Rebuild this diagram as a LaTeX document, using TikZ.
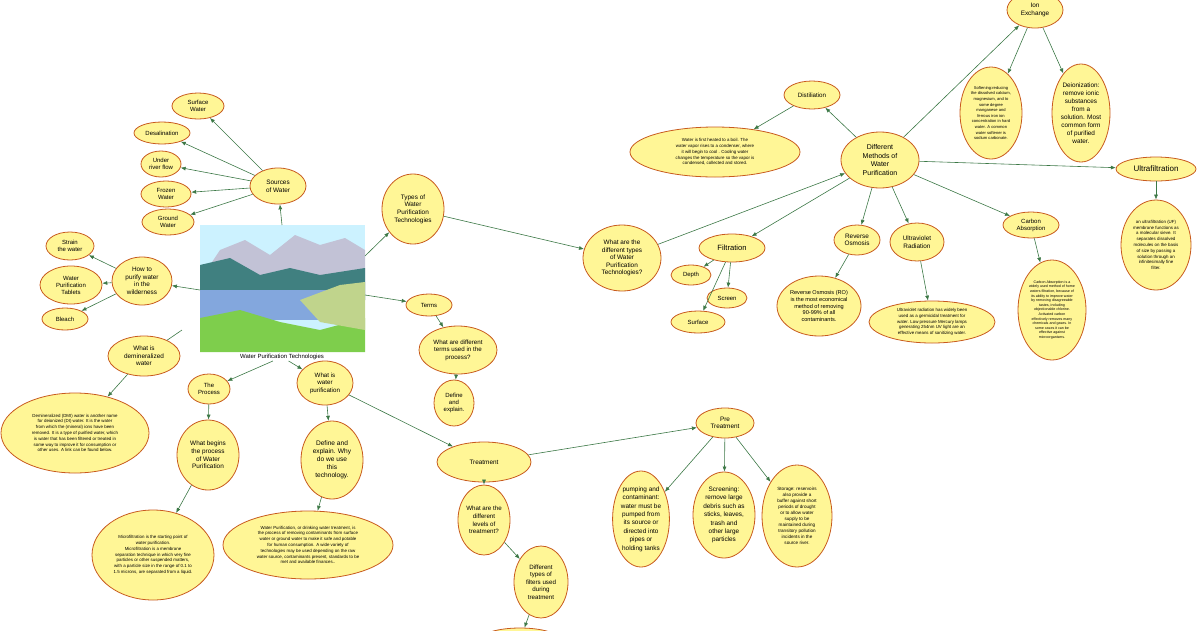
\documentclass[tikz,border=0pt]{standalone}
\usepackage{fontspec}
\setmainfont{Liberation Sans}
\usetikzlibrary{shapes.geometric,arrows.meta}
\definecolor{elfill}{RGB}{255,246,150}
\definecolor{eldraw}{RGB}{200,90,30}
\definecolor{ln}{RGB}{60,120,70}
\tikzset{
 el/.style={ellipse,draw=eldraw,line width=0.8pt,fill=elfill,align=center,inner sep=0pt,font=\fontsize{7}{8.4}\selectfont},
 ar/.style={draw=ln,line width=0.6pt,-{Latex[length=5pt,width=4pt]}}
}
\newcommand{\tnf}{\fontsize{4.4}{5.8}\selectfont}
\newcommand{\fs}[2]{\fontsize{#1}{#2}\selectfont}
\newcommand{\E}[6][]{\node[el,minimum width=#4pt,minimum height=#5pt,#1] (#2) at (#3) {#6};}
\begin{document}
\begin{tikzpicture}[x=1pt,y=-1pt]
\useasboundingbox (0,0) rectangle (1200,630);
% image
\begin{scope}
\clip (200,225) rectangle (365,352);
\fill[blue!25!cyan!20] (200,225) rectangle (365,352);
\fill[blue!20!gray!40] (200,280) -- (220,250) -- (245,240) -- (270,255) -- (295,235) -- (320,245) -- (345,238) -- (365,250) -- (365,300) -- (200,300) -- cycle;
\fill[teal!50!gray] (200,265) -- (230,258) -- (260,275) -- (290,268) -- (320,275) -- (365,268) -- (365,300) -- (200,300) -- cycle;
\fill[cyan!50!blue!50] (200,290) rectangle (365,320);
\fill[green!45!olive!70] (200,352) -- (200,318) -- (240,310) -- (280,322) -- (320,330) -- (365,318) -- (365,352) -- cycle;
\fill[olive!60!green!40] (300,300) -- (340,285) -- (365,282) -- (365,330) -- (320,322) -- cycle;
\end{scope}
\node[inner sep=1pt,font=\fontsize{6}{7}\selectfont] (cap) at (282,357) {Water Purification Technologies};
% nodes
\E[font=\fs{6.4}{7.6}]{ionex}{1035,10}{56}{36}{Ion\\Exchange}
\E[font=\fs{4.1}{5.6}]{soften}{991,113}{62}{92}{Softening:reducing\\the dissolved calcium,\\magnesium, and to\\some degree\\manganese and\\ferrous iron ion\\concentration in hard\\water. A common\\water softener is\\sodium carbonate.}
\E[font=\fs{6.4}{8}]{deion}{1081,113}{58}{98}{Deionization:\\remove ionic\\substances\\from a\\solution. Most\\common form\\of purified\\water.}
\E[font=\fs{6.2}{7}]{distil}{812,95}{56}{28}{Distiliation}
\E[font=\tnf]{distxt}{715,152}{170}{50}{Water is first heated to a boil. The\\water vapor rises to a condenser, where\\it will begin to cool . Cooling water\\changes the temperature so the vapor is\\condensed, collected and stored.}
\E{diff}{880,160}{78}{56}{Different\\Methods of\\Water\\Purification}
\E[font=\fs{8}{9}]{ultraf}{1156,169}{80}{24}{Ultrafiltration}
\E[font=\tnf]{uftxt}{1156,245}{70}{90}{an ultrafiltration (UF)\\membrane functions as\\a molecular sieve. It\\separates dissolved\\molecules on the basis\\of size by passing a\\solution through an\\infinitesimally fine\\filter.}
\E[font=\fs{6.4}{7.6}]{types2}{622,258}{78}{66}{What are the\\different types\\of Water\\Purification\\Technologies?}
\E[font=\fs{7.6}{9}]{filt}{732,248}{66}{28}{Filtration}
\E[font=\fs{6}{7}]{depth}{691,275}{40}{20}{Depth}
\E[font=\fs{6}{7}]{screen}{727,298}{40}{20}{Screen}
\E[font=\fs{6}{7}]{surf2}{698,322}{54}{22}{Surface}
\E[font=\fs{6.4}{7.6}]{ro}{857,240}{46}{30}{Reverse\\Osmosis}
\E[font=\fs{5.6}{6.6}]{rotxt}{819,306}{84}{60}{Reverse Osmosis (RO)\\is the most economical\\method of removing\\90-99\% of all\\contaminants.}
\E[font=\fs{6.4}{7.6}]{uv}{917,242}{54}{38}{Ultraviolet\\Radiation}
\E[font=\tnf]{uvtxt}{932,322}{126}{42}{Ultraviolet radiation has widely been\\used as a germicidal treatment for\\water. Low pressure Mercury lamps\\generating 254nm UV light are an\\effective means of sanitizing water.}
\E[font=\fs{6}{7}]{carbon}{1031,225}{56}{26}{Carbon\\Absorption}
\E[font=\fs{3.6}{4.6}]{cartxt}{1052,310}{68}{100}{Carbon Absorption is a\\widely used method of home\\waters filtration, because of\\its ability to improve water\\by removing disagreeable\\tastes, including\\objectionable chlorine.\\Activated carbon\\effectively removes many\\chemicals and gases. In\\some cases it can be\\effective against\\microorganisms.}
\E[font=\fs{6.4}{7.6}]{wtypes}{413,209}{62}{70}{Types of\\Water\\Purification\\Technologies}
\E[font=\fs{6.4}{7.6}]{sources}{278,186}{56}{36}{Sources\\of Water}
\E[font=\fs{6}{7}]{surface}{198,106}{52}{26}{Surface\\Water}
\E[font=\fs{6}{7}]{desal}{162,133}{56}{22}{Desalination}
\E[font=\fs{6}{7}]{under}{161,164}{40}{26}{Under\\river flow}
\E[font=\fs{6}{7}]{frozen}{166,194}{50}{26}{Frozen\\Water}
\E[font=\fs{6}{7}]{ground}{168,222}{52}{26}{Ground\\Water}
\E[font=\fs{6.4}{7.6}]{howto}{142,281}{60}{48}{How to\\purify water\\in the\\wilderness}
\E[font=\fs{6}{7}]{strain}{70,246}{48}{28}{Strain\\the water}
\E[font=\fs{6}{7}]{tablets}{71,285}{62}{38}{Water\\Purification\\Tablets}
\E[font=\fs{6}{7}]{bleach}{65,319}{46}{22}{Bleach}
\E[font=\fs{6.4}{7.6}]{demin}{144,356}{72}{40}{What is\\demineralized\\water}
\E[font=\tnf]{demtxt}{75,433}{148}{80}{Demineralized (DMI) water is another name\\for deionized (DI) water. It is the water\\from which the (mineral) ions have been\\removed. It is a type of purified water, which\\is water that has been filtered or treated in\\some way to improve it for consumption or\\other uses. A link can be found below.}
\E[font=\fs{6}{7}]{terms}{429,305}{46}{22}{Terms}
\E[font=\fs{6.2}{7.4}]{whatdiff}{458,350}{78}{48}{What are different\\terms used in the\\process?}
\E[font=\fs{6}{7.2}]{define}{454,403}{40}{46}{Define\\and\\explain.}
\E[font=\fs{6}{7.2}]{process}{209,389}{42}{30}{The\\Process}
\E[font=\fs{6.4}{7.8}]{begins}{208,455}{62}{70}{What begins\\the process\\of Water\\Purification}
\E[font=\tnf]{micro}{153,555}{122}{90}{Microfiltration is the starting point of\\water purification.\\Microfiltration is a membrane\\separation technique in which very fine\\particles or other suspended matters,\\with a particle size in the range of 0.1 to\\1.5 microns, are separated from a liquid.}
\E[font=\fs{6.2}{7.4}]{whatis}{325,383}{56}{44}{What is\\water\\purification}
\E[font=\fs{6.6}{8}]{defwhy}{332,460}{62}{78}{Define and\\explain. Why\\do we use\\this\\technology.}
\E[font=\tnf]{wptxt}{308,545}{170}{68}{Water Purification, or drinking water treatment, is\\the process of removing contaminants from surface\\water or ground water to make it safe and potable\\for human consumption. A wide variety of\\technologies may be used depending on the raw\\water source, contaminants present, standards to be\\met and available finances..}
\E[font=\fs{6.4}{7.6}]{treat}{484,462}{94}{40}{Treatment}
\E[font=\fs{6.4}{7.6}]{pre}{725,423}{58}{30}{Pre\\Treatment}
\E[font=\fs{6.4}{8.4}]{pump}{641,519}{50}{96}{pumping and\\contaminant:\\water must be\\pumped from\\its source or\\directed into\\pipes or\\holding tanks}
\E[font=\fs{6.4}{8.4}]{scrn}{724,515}{62}{86}{Screening:\\remove large\\debris such as\\sticks, leaves,\\trash and\\other large\\particles}
\E[font=\fs{4.6}{6}]{stor}{797,516}{70}{102}{Storage: reservoirs\\also provide a\\buffer against short\\periods of drought\\or to allow water\\supply to be\\maintained during\\transitory pollution\\incidents in the\\source river.}
\E[font=\fs{6.2}{7.6}]{levels}{484,520}{52}{70}{What are the\\different\\levels of\\treatment?}
\E[font=\fs{6.2}{7.6}]{filters}{541,582}{54}{72}{Different\\types of\\filters used\\during\\treatment}
\E{bottom}{520,640}{80}{24}{}
\coordinate (imgtop) at (282,225);
\coordinate (imgtr) at (365,256);
\coordinate (imgr) at (365,295);
\coordinate (imgl) at (200,290);
\coordinate (imgbl) at (182,330);
% edges
\draw[ar] (sources) -- (surface);
\draw[ar] (sources) -- (desal);
\draw[ar] (sources) -- (under);
\draw[ar] (sources) -- (frozen);
\draw[ar] (sources) -- (ground);
\draw[ar] (imgtop) -- (sources);
\draw[ar] (imgtr) -- (wtypes);
\draw[ar] (imgr) -- (terms);
\draw[ar] (imgl) -- (howto);
\draw[ar] (howto) -- (strain);
\draw[ar] (howto) -- (tablets);
\draw[ar] (howto) -- (bleach);
\draw[ln,line width=0.6pt] (demin) -- (imgbl);
\draw[ar] (demin) -- (demtxt);
\draw[ar] (cap) -- (process);
\draw[ar] (cap) -- (whatis);
\draw[ar] (process) -- (begins);
\draw[ar] (begins) -- (micro);
\draw[ar] (whatis) -- (defwhy);
\draw[ar] (defwhy) -- (wptxt);
\draw[ar] (whatis) -- (treat);
\draw[ar] (treat) -- (pre);
\draw[ar] (pre) -- (pump);
\draw[ar] (pre) -- (scrn);
\draw[ar] (pre) -- (stor);
\draw[ar] (treat) -- (levels);
\draw[ar] (levels) -- (filters);
\draw[ar] (filters) -- (bottom);
\draw[ar] (terms) -- (whatdiff);
\draw[ar] (whatdiff) -- (define);
\draw[ar] (wtypes) -- (types2);
\draw[ar] (types2) -- (diff);
\draw[ar] (diff) -- (distil);
\draw[ar] (distil) -- (distxt);
\draw[ar] (diff) -- (ionex);
\draw[ar] (ionex) -- (soften);
\draw[ar] (ionex) -- (deion);
\draw[ar] (diff) -- (ultraf);
\draw[ar] (ultraf) -- (uftxt);
\draw[ar] (diff) -- (filt);
\draw[ar] (diff) -- (ro);
\draw[ar] (diff) -- (uv);
\draw[ar] (diff) -- (carbon);
\draw[ar] (filt) -- (depth);
\draw[ar] (filt) -- (screen);
\draw[ar] (filt) -- (surf2);
\draw[ar] (ro) -- (rotxt);
\draw[ar] (uv) -- (uvtxt);
\draw[ar] (carbon) -- (cartxt);
\end{tikzpicture}
\end{document}
